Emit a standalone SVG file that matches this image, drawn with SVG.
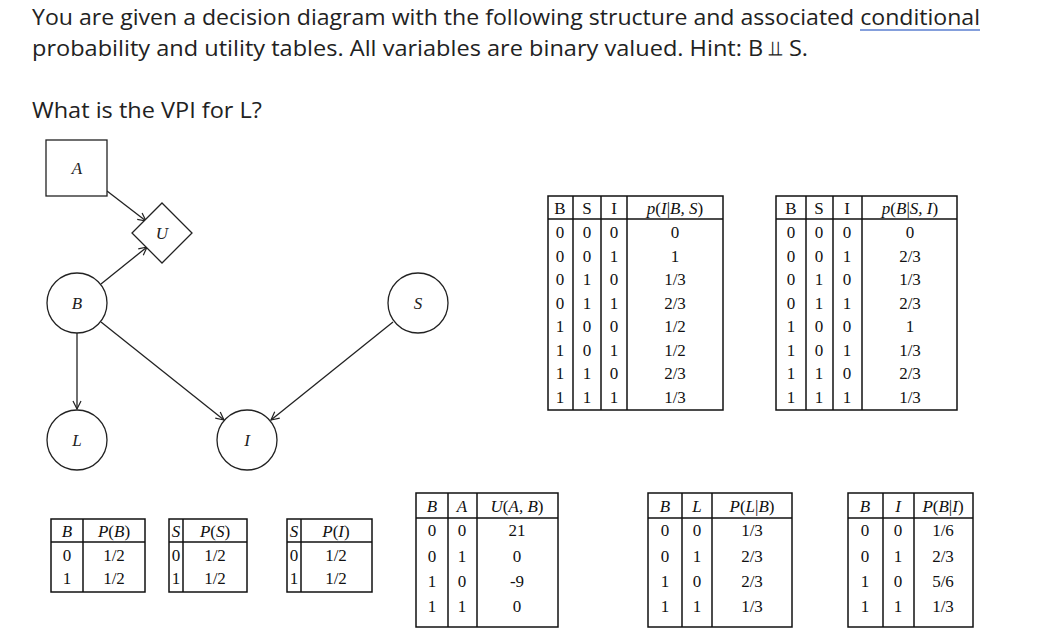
<svg xmlns="http://www.w3.org/2000/svg" width="1053" height="635" viewBox="0 0 1053 635">
<style>
.q{font-family:"Open Sans","Noto Sans",sans-serif;font-size:21px;fill:#222}
.n{fill:#fff;stroke:#222;stroke-width:1.3}
.lb{font-family:"Liberation Serif",serif;font-style:italic;font-size:17px;text-anchor:middle;fill:#222}
.t{font-family:"Liberation Serif",serif;font-size:17px;text-anchor:middle;fill:#111}
.i{font-style:italic}
.g line,.g rect{stroke:#111;stroke-width:1.5;fill:none}
.c line{stroke:#222;stroke-width:1.3;marker-end:url(#ar)}
</style>
<defs><marker id="ar" markerWidth="10" markerHeight="10" refX="9" refY="5" orient="auto" markerUnits="userSpaceOnUse"><path d="M1,1 L9,5 L1,9" fill="none" stroke="#222" stroke-width="1.2"/></marker></defs>
<rect width="1053" height="635" fill="#fff"/>
<text class="q" x="32" y="25" textLength="948" lengthAdjust="spacingAndGlyphs">You are given a decision diagram with the following structure and associated conditional</text>
<line x1="860" y1="30" x2="980" y2="30" stroke="#5b7fd0" stroke-width="1.5"/>
<text class="q" x="32" y="56" textLength="776" lengthAdjust="spacingAndGlyphs">probability and utility tables. All variables are binary valued. Hint: B ⫫ S.</text>
<text class="q" x="32" y="118" textLength="230" lengthAdjust="spacingAndGlyphs">What is the VPI for L?</text>

<g class="c">
<line x1="107" y1="191" x2="146" y2="221"/>
<line x1="101" y1="284" x2="147" y2="247"/>
<line x1="77" y1="333" x2="77" y2="409"/>
<line x1="101" y1="322" x2="224" y2="420"/>
<line x1="393" y1="322" x2="271" y2="420"/>
</g>
<g id="A"><rect class="n" x="46" y="140" width="61" height="56"/><text class="lb" x="77" y="174">A</text></g>
<g id="U"><polygon class="n" points="162,203 192,233 162,263 132,233"/><text class="lb" x="162" y="239">U</text></g>
<g id="B"><circle class="n" cx="77" cy="303" r="30"/><text class="lb" x="77" y="309">B</text></g>
<g id="S"><circle class="n" cx="418" cy="303" r="30"/><text class="lb" x="418" y="309">S</text></g>
<g id="L"><circle class="n" cx="77" cy="440" r="30"/><text class="lb" x="77" y="446">L</text></g>
<g id="I"><circle class="n" cx="247" cy="440" r="30"/><text class="lb" x="247" y="446">I</text></g>

<!-- p(I|B,S) -->
<g id="tIBS" class="g">
<rect x="548" y="196" width="175" height="214"/>
<line x1="573" y1="196" x2="573" y2="410"/><line x1="601" y1="196" x2="601" y2="410"/><line x1="627" y1="196" x2="627" y2="410"/>
<line x1="548" y1="219" x2="723" y2="219"/>
<text class="t" y="214"><tspan x="560">B</tspan><tspan x="587">S</tspan><tspan x="614">I</tspan><tspan x="675"><tspan class="i">p</tspan>(<tspan class="i">I</tspan>|<tspan class="i">B, S</tspan>)</tspan></text>
<text class="t" y="238"><tspan x="560">0</tspan><tspan x="587">0</tspan><tspan x="614">0</tspan><tspan x="675">0</tspan></text>
<text class="t" y="261.5"><tspan x="560">0</tspan><tspan x="587">0</tspan><tspan x="614">1</tspan><tspan x="675">1</tspan></text>
<text class="t" y="285"><tspan x="560">0</tspan><tspan x="587">1</tspan><tspan x="614">0</tspan><tspan x="675">1/3</tspan></text>
<text class="t" y="308.5"><tspan x="560">0</tspan><tspan x="587">1</tspan><tspan x="614">1</tspan><tspan x="675">2/3</tspan></text>
<text class="t" y="332"><tspan x="560">1</tspan><tspan x="587">0</tspan><tspan x="614">0</tspan><tspan x="675">1/2</tspan></text>
<text class="t" y="355.5"><tspan x="560">1</tspan><tspan x="587">0</tspan><tspan x="614">1</tspan><tspan x="675">1/2</tspan></text>
<text class="t" y="379"><tspan x="560">1</tspan><tspan x="587">1</tspan><tspan x="614">0</tspan><tspan x="675">2/3</tspan></text>
<text class="t" y="402.5"><tspan x="560">1</tspan><tspan x="587">1</tspan><tspan x="614">1</tspan><tspan x="675">1/3</tspan></text>
</g>
<!-- p(B|S,I) -->
<g id="tBSI" class="g">
<rect x="776" y="196" width="181" height="214"/>
<line x1="806" y1="196" x2="806" y2="410"/><line x1="833" y1="196" x2="833" y2="410"/><line x1="862" y1="196" x2="862" y2="410"/>
<line x1="776" y1="219" x2="957" y2="219"/>
<text class="t" y="214"><tspan x="791">B</tspan><tspan x="819">S</tspan><tspan x="847">I</tspan><tspan x="910"><tspan class="i">p</tspan>(<tspan class="i">B</tspan>|<tspan class="i">S, I</tspan>)</tspan></text>
<text class="t" y="238"><tspan x="791">0</tspan><tspan x="819">0</tspan><tspan x="847">0</tspan><tspan x="910">0</tspan></text>
<text class="t" y="261.5"><tspan x="791">0</tspan><tspan x="819">0</tspan><tspan x="847">1</tspan><tspan x="910">2/3</tspan></text>
<text class="t" y="285"><tspan x="791">0</tspan><tspan x="819">1</tspan><tspan x="847">0</tspan><tspan x="910">1/3</tspan></text>
<text class="t" y="308.5"><tspan x="791">0</tspan><tspan x="819">1</tspan><tspan x="847">1</tspan><tspan x="910">2/3</tspan></text>
<text class="t" y="332"><tspan x="791">1</tspan><tspan x="819">0</tspan><tspan x="847">0</tspan><tspan x="910">1</tspan></text>
<text class="t" y="355.5"><tspan x="791">1</tspan><tspan x="819">0</tspan><tspan x="847">1</tspan><tspan x="910">1/3</tspan></text>
<text class="t" y="379"><tspan x="791">1</tspan><tspan x="819">1</tspan><tspan x="847">0</tspan><tspan x="910">2/3</tspan></text>
<text class="t" y="402.5"><tspan x="791">1</tspan><tspan x="819">1</tspan><tspan x="847">1</tspan><tspan x="910">1/3</tspan></text>
</g>

<!-- P(B) -->
<g id="tPB" class="g">
<rect x="51" y="519" width="94" height="73"/><line x1="83" y1="519" x2="83" y2="592"/><line x1="51" y1="542" x2="145" y2="542"/>
<text class="t" y="537"><tspan x="67" class="i">B</tspan><tspan x="114"><tspan class="i">P</tspan>(<tspan class="i">B</tspan>)</tspan></text>
<text class="t" y="561"><tspan x="67">0</tspan><tspan x="114">1/2</tspan></text>
<text class="t" y="584"><tspan x="67">1</tspan><tspan x="114">1/2</tspan></text>
</g>
<g id="tPS" class="g">
<rect x="169" y="519" width="78" height="73"/><line x1="183" y1="519" x2="183" y2="592"/><line x1="169" y1="542" x2="247" y2="542"/>
<text class="t" y="537"><tspan x="176" class="i">S</tspan><tspan x="215"><tspan class="i">P</tspan>(<tspan class="i">S</tspan>)</tspan></text>
<text class="t" y="561"><tspan x="176">0</tspan><tspan x="215">1/2</tspan></text>
<text class="t" y="584"><tspan x="176">1</tspan><tspan x="215">1/2</tspan></text>
</g>
<g id="tPI" class="g">
<rect x="287" y="519" width="85" height="73"/><line x1="301" y1="519" x2="301" y2="592"/><line x1="287" y1="542" x2="372" y2="542"/>
<text class="t" y="537"><tspan x="294" class="i">S</tspan><tspan x="336"><tspan class="i">P</tspan>(<tspan class="i">I</tspan>)</tspan></text>
<text class="t" y="561"><tspan x="294">0</tspan><tspan x="336">1/2</tspan></text>
<text class="t" y="584"><tspan x="294">1</tspan><tspan x="336">1/2</tspan></text>
</g>
<g id="tU" class="g">
<rect x="416" y="493" width="142" height="134"/><line x1="448" y1="493" x2="448" y2="627"/><line x1="477" y1="493" x2="477" y2="627"/><line x1="416" y1="518" x2="558" y2="518"/>
<text class="t" y="512"><tspan x="432" class="i">B</tspan><tspan x="462" class="i">A</tspan><tspan x="517"><tspan class="i">U</tspan>(<tspan class="i">A, B</tspan>)</tspan></text>
<text class="t" y="536"><tspan x="432">0</tspan><tspan x="462">0</tspan><tspan x="517">21</tspan></text>
<text class="t" y="562"><tspan x="432">0</tspan><tspan x="462">1</tspan><tspan x="517">0</tspan></text>
<text class="t" y="587"><tspan x="432">1</tspan><tspan x="462">0</tspan><tspan x="517">-9</tspan></text>
<text class="t" y="612"><tspan x="432">1</tspan><tspan x="462">1</tspan><tspan x="517">0</tspan></text>
</g>
<g id="tLB" class="g">
<rect x="648" y="493" width="144" height="134"/><line x1="682" y1="493" x2="682" y2="627"/><line x1="712" y1="493" x2="712" y2="627"/><line x1="648" y1="518" x2="792" y2="518"/>
<text class="t" y="512"><tspan x="665" class="i">B</tspan><tspan x="697" class="i">L</tspan><tspan x="752"><tspan class="i">P</tspan>(<tspan class="i">L</tspan>|<tspan class="i">B</tspan>)</tspan></text>
<text class="t" y="536"><tspan x="665">0</tspan><tspan x="697">0</tspan><tspan x="752">1/3</tspan></text>
<text class="t" y="562"><tspan x="665">0</tspan><tspan x="697">1</tspan><tspan x="752">2/3</tspan></text>
<text class="t" y="587"><tspan x="665">1</tspan><tspan x="697">0</tspan><tspan x="752">2/3</tspan></text>
<text class="t" y="612"><tspan x="665">1</tspan><tspan x="697">1</tspan><tspan x="752">1/3</tspan></text>
</g>
<g id="tBI" class="g">
<rect x="848" y="493" width="125" height="134"/><line x1="883" y1="493" x2="883" y2="627"/><line x1="914" y1="493" x2="914" y2="627"/><line x1="848" y1="518" x2="973" y2="518"/>
<text class="t" y="512"><tspan x="865" class="i">B</tspan><tspan x="898" class="i">I</tspan><tspan x="943"><tspan class="i">P</tspan>(<tspan class="i">B</tspan>|<tspan class="i">I</tspan>)</tspan></text>
<text class="t" y="536"><tspan x="865">0</tspan><tspan x="898">0</tspan><tspan x="943">1/6</tspan></text>
<text class="t" y="562"><tspan x="865">0</tspan><tspan x="898">1</tspan><tspan x="943">2/3</tspan></text>
<text class="t" y="587"><tspan x="865">1</tspan><tspan x="898">0</tspan><tspan x="943">5/6</tspan></text>
<text class="t" y="612"><tspan x="865">1</tspan><tspan x="898">1</tspan><tspan x="943">1/3</tspan></text>
</g>
</svg>
